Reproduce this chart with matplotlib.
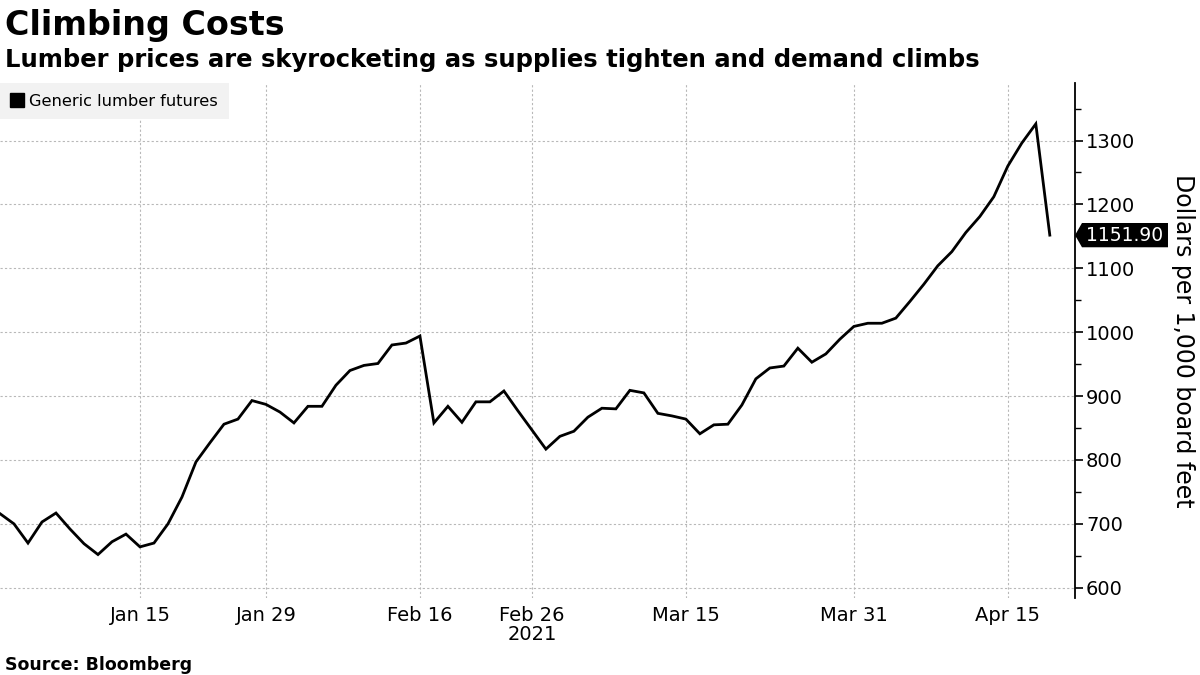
import matplotlib
matplotlib.use("Agg")
import matplotlib.pyplot as plt
from matplotlib.lines import Line2D
from matplotlib.patches import Polygon
from matplotlib.ticker import MultipleLocator, FixedLocator

# trading days, Dec 31 2020 .. Apr 20 2021
dates = [
    "2020-12-31",
    "2021-01-04", "2021-01-05", "2021-01-06", "2021-01-07", "2021-01-08",
    "2021-01-11", "2021-01-12", "2021-01-13", "2021-01-14", "2021-01-15",
    "2021-01-19", "2021-01-20", "2021-01-21", "2021-01-22",
    "2021-01-25", "2021-01-26", "2021-01-27", "2021-01-28", "2021-01-29",
    "2021-02-01", "2021-02-02", "2021-02-03", "2021-02-04", "2021-02-05",
    "2021-02-08", "2021-02-09", "2021-02-10", "2021-02-11", "2021-02-12",
    "2021-02-16", "2021-02-17", "2021-02-18", "2021-02-19",
    "2021-02-22", "2021-02-23", "2021-02-24", "2021-02-25", "2021-02-26",
    "2021-03-01", "2021-03-02", "2021-03-03", "2021-03-04", "2021-03-05",
    "2021-03-08", "2021-03-09", "2021-03-10", "2021-03-11", "2021-03-12",
    "2021-03-15", "2021-03-16", "2021-03-17", "2021-03-18", "2021-03-19",
    "2021-03-22", "2021-03-23", "2021-03-24", "2021-03-25", "2021-03-26",
    "2021-03-29", "2021-03-30", "2021-03-31", "2021-04-01", "2021-04-02",
    "2021-04-05", "2021-04-06", "2021-04-07", "2021-04-08", "2021-04-09",
    "2021-04-12", "2021-04-13", "2021-04-14", "2021-04-15", "2021-04-16",
    "2021-04-19", "2021-04-20",
]
prices = [
    716,
    700, 670, 703, 717, 692,
    669, 652, 672, 684, 664,
    670, 700, 742, 797,
    827, 856, 864, 893, 887,
    875, 858, 884, 884, 917,
    940, 948, 951, 980, 983,
    994, 858, 884, 859,
    891, 891, 908, 877, 847,
    817, 837, 845, 867, 881,
    880, 909, 905, 873, 869,
    864, 841, 855, 856, 886,
    927, 944, 947, 975, 953,
    966, 989, 1009, 1014, 1014,
    1022, 1048, 1075, 1104, 1126,
    1156, 1181, 1212, 1260, 1296,
    1326, 1151.90,
]
tick_dates = ["2021-01-15", "2021-01-29", "2021-02-16", "2021-02-26",
              "2021-03-15", "2021-03-31", "2021-04-15"]
tick_labels = ["Jan 15", "Jan 29", "Feb 16", "Feb 26\n2021",
               "Mar 15", "Mar 31", "Apr 15"]

x = list(range(len(dates)))
tick_pos = [dates.index(d) for d in tick_dates]

plt.rcParams["font.family"] = ["DejaVu Sans"]

fig = plt.figure(figsize=(12, 6.75), dpi=100)
ax = fig.add_axes([0.0, 1 - 598 / 675, 1075 / 1200, (598 - 83) / 675])

ax.plot(x, prices, color="black", linewidth=2, solid_joinstyle="miter")

ax.set_xlim(0, 76.8)
ax.set_ylim(584, 1390)

for s in ["top", "left", "bottom"]:
    ax.spines[s].set_visible(False)
ax.spines["right"].set_linewidth(1.3)

ax.yaxis.tick_right()
ax.yaxis.set_major_locator(MultipleLocator(100))
ax.yaxis.set_minor_locator(MultipleLocator(50))
ax.tick_params(axis="y", which="major", length=6, width=1.2, labelsize=14, pad=2)
ax.tick_params(axis="y", which="minor", length=4, width=1.0)

ax.xaxis.set_major_locator(FixedLocator(tick_pos))
ax.set_xticklabels(tick_labels, fontsize=14, linespacing=0.95)
ax.tick_params(axis="x", length=0, pad=6)

ax.grid(True, which="major", color="#b8b8b8", linestyle=(0, (2, 2)), linewidth=0.8)
ax.set_axisbelow(True)

# legend
handle = Line2D([], [], marker="s", color="black", linestyle="none", markersize=10)
leg = ax.legend([handle], ["Generic lumber futures"], loc="upper left",
                bbox_to_anchor=(0, 1), borderaxespad=0, frameon=True,
                fancybox=False, fontsize=11.7, handlelength=0.8,
                handletextpad=0.35, borderpad=0.65)
leg.get_frame().set_facecolor("#f2f2f2")
leg.get_frame().set_edgecolor("none")
leg.get_frame().set_alpha(1)

# last value tag
last = prices[-1]
tr = ax.get_yaxis_transform()
h = 19
poly = Polygon([(1.0, last), (1.0065, last + h), (1.0865, last + h),
                (1.0865, last - h), (1.0065, last - h)],
               closed=True, transform=tr, facecolor="black",
               edgecolor="none", clip_on=False, zorder=5)
ax.add_patch(poly)
ax.text(1.0465, last, f"{last:.2f}", transform=tr, color="white",
        fontsize=13.5, ha="center", va="center", zorder=6, clip_on=False)

fig.text(1183 / 1200, 1 - 341 / 675, "Dollars per 1,000 board feet",
         rotation=-90, ha="center", va="center", fontsize=17)

fig.text(5 / 1200, 1 - 25 / 675, "Climbing Costs", fontsize=24,
         fontweight="bold", ha="left", va="center")
fig.text(5 / 1200, 1 - 60 / 675,
         "Lumber prices are skyrocketing as supplies tighten and demand climbs",
         fontsize=17.5, fontweight="bold", ha="left", va="center")
fig.text(5 / 1200, 1 - 665 / 675, "Source: Bloomberg", fontsize=12.5,
         fontweight="bold", ha="left", va="center")

fig.savefig("out.png", dpi=100)
